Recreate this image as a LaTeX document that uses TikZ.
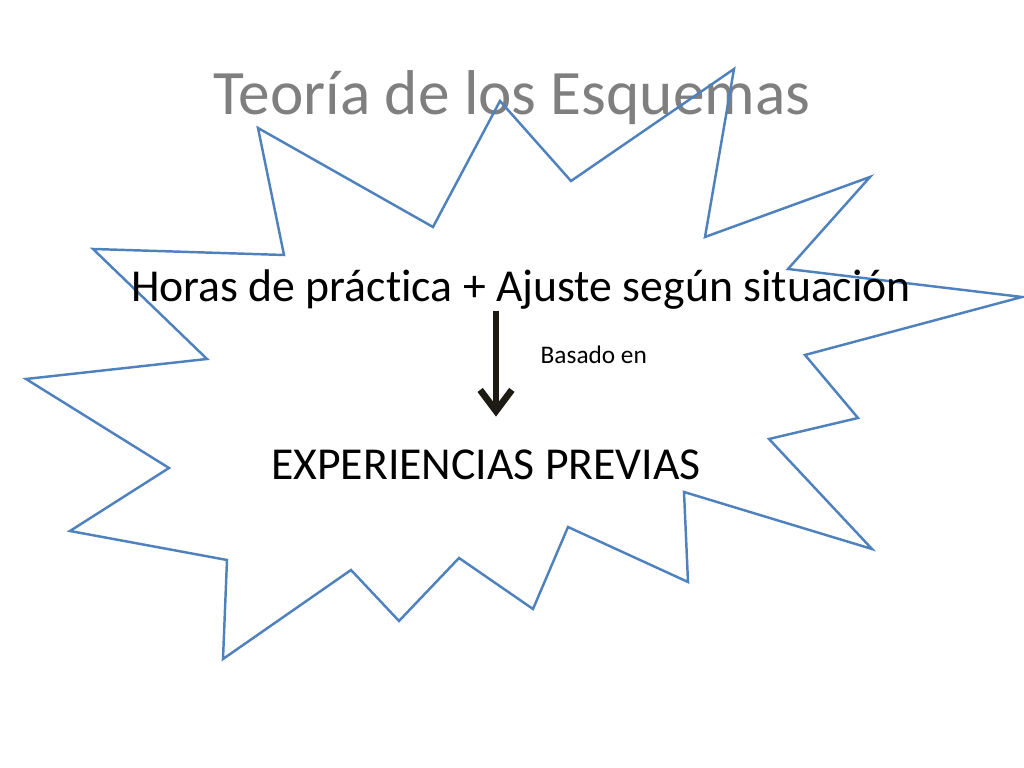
\documentclass[tikz,border=0pt]{standalone}
\usepackage{fontspec}
\setmainfont{Carlito}[Ligatures={NoCommon,NoDiscretionary,NoRare},Contextuals=NoAlternate]
\usepackage{tikz}
\usetikzlibrary{arrows.meta,positioning}
\definecolor{azul}{RGB}{79,129,189}
\definecolor{gris}{RGB}{127,127,127}
\definecolor{negro}{RGB}{29,27,20}

\begin{document}
\begin{tikzpicture}[x=0.01cm,y=-0.01cm,
    estrella/.style={draw=azul, line width=0.7pt, line join=miter},
    texto/.style={inner sep=0pt, anchor=base, font=\fontsize{13}{15}\selectfont},
    flecha/.style={draw=negro, line width=1.9pt, -{Straight Barb[length=6pt,width=9pt]}}]
  \useasboundingbox (0,0) rectangle (1024,768);
  \node[texto, text=gris, font=\fontsize{18}{21}\selectfont] (titulo) at (512,115) {Teoría de los Esquemas}; % title
  % the star
  \draw[estrella] (26,379) -- (207,359) -- (93,249) -- (284,255) -- (258,128)
    -- (433,227) -- (500,101) -- (571,181) -- (734,69) -- (705,237)
    -- (870,177) -- (788,269) -- (1022,297) -- (805,355) -- (858,418)
    -- (769,439) -- (872,549) -- (684,492) -- (688,582) -- (568,527)
    -- (533,609) -- (459,558) -- (399,621) -- (351,570) -- (223,659)
    -- (227,560) -- (70,531) -- (169,468) -- cycle;
  \node[texto] (horas) at (521,302) {Horas de prác\kern0pt tica + Ajuste según situación};
  \node[texto, anchor=base west, font=\fontsize{7.2}{9}\selectfont] (basado) at (540,364) {Basado en};
  \node[texto] (experiencias) at (486,480) {EXPERIENCIAS PREVIAS};
  \coordinate (eje) at (496,0);
  \draw[flecha, shorten >=0.33cm] (horas.south -| eje) -- (experiencias.north -| eje);
\end{tikzpicture}
\end{document}
